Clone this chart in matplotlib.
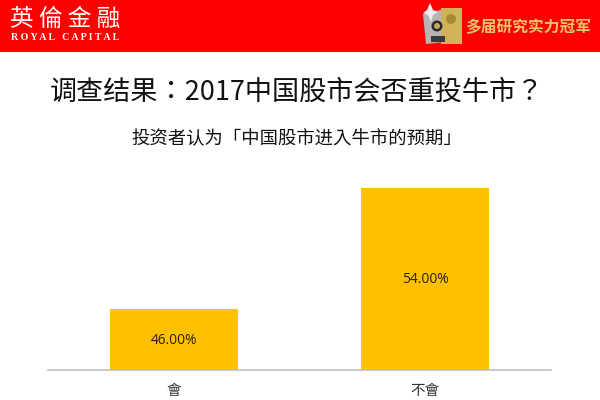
import matplotlib
matplotlib.use("Agg")
import matplotlib.pyplot as plt
from matplotlib.patches import Rectangle, Polygon, Circle

categories = ["會", "不會"]
values = [46.00, 54.00]
value_labels = ["46.00%", "54.00%"]
title = "调查结果：2017中国股市会否重投牛市？"
subtitle = "投资者认为「中国股市进入牛市的预期」"
brand = "英倫金融"
brand_en = "ROYAL CAPITAL"
award = "多届研究实力冠军"

W, H = 600, 400
CJK = ["Noto Sans CJK SC", "DejaVu Sans"]
CJK_TC = ["Noto Sans CJK TC", "DejaVu Sans"]
plt.rcParams["font.family"] = CJK

fig = plt.figure(figsize=(W / 100, H / 100), dpi=100, facecolor="white")

# page overlay in pixel coordinates, y pointing down
page = fig.add_axes([0, 0, 1, 1], zorder=0)
page.set_xlim(0, W)
page.set_ylim(H, 0)
page.axis("off")

# red banner
page.add_patch(Rectangle((0, 0), W, 52, color="#fe0000", lw=0))
page.text(65, 19, " ".join(brand), color="white", fontsize=17, ha="center", va="center",
          family=CJK_TC, fontweight="light")
page.text(65, 38, " ".join(brand_en), color="white", fontsize=7.2,
          ha="center", va="center", family="Liberation Serif", fontweight="bold")

# award badge
page.add_patch(Polygon([(423, 14), (445, 9), (445, 42), (426, 44)], color="#b5b5b5", lw=0))
page.add_patch(Polygon([(430, 3), (433, 10), (438, 12), (433, 15), (431, 22), (428, 15), (423, 13), (427, 10)],
                       color="#eeeeee", lw=0))
page.add_patch(Rectangle((441, 8), 21, 36, color="#d1b25a", lw=0))
page.add_patch(Circle((451, 19), 5, color="#a58a35", lw=0))
page.add_patch(Circle((437, 26), 5.5, color="#2a2a2a", lw=0))
page.add_patch(Circle((437, 26), 3, color="#c9a94e", lw=0))
page.add_patch(Rectangle((431, 36), 14, 6, color="#3a3a3a", lw=0))
page.text(528, 27.5, award, color="#e9c46a", fontsize=11.3, ha="center", va="center",
          fontweight="bold", family=CJK)

# headings
page.text(296.5, 92, title, color="#111111", fontsize=19.5, ha="center", va="center", family=CJK_TC)
page.text(296.5, 139, subtitle, color="#111111", fontsize=13.2, ha="center", va="center", family=CJK_TC)

# bar chart; the value axis starts at 42
left, right, top, bottom = 48, 551, 188, 370
ax = fig.add_axes([left / W, 1 - bottom / H, (right - left) / W, (bottom - top) / H],
                  facecolor="none", zorder=1)
positions = range(len(categories))
bars = ax.bar(positions, values, width=0.51, color="#ffc000", linewidth=0)
ax.set_xlim(-0.5, 1.5)
ax.set_ylim(42, 54)
ax.yaxis.set_visible(False)
for side in ("top", "left", "right"):
    ax.spines[side].set_visible(False)
ax.spines["bottom"].set_color("#bfbfbf")
ax.spines["bottom"].set_linewidth(1.2)
ax.set_xticks(list(positions))
ax.set_xticklabels(categories, family=CJK_TC, fontsize=10.5, color="#333333")
ax.tick_params(axis="x", length=0, pad=10)

for bar, label in zip(bars, value_labels):
    ax.text(bar.get_x() + bar.get_width() / 2, (42 + bar.get_height()) / 2 - 0.05, label,
            ha="center", va="center", fontsize=9.9, color="#262000",
            family=["Open Sans", "DejaVu Sans"])

fig.savefig("out.png", dpi=100)
